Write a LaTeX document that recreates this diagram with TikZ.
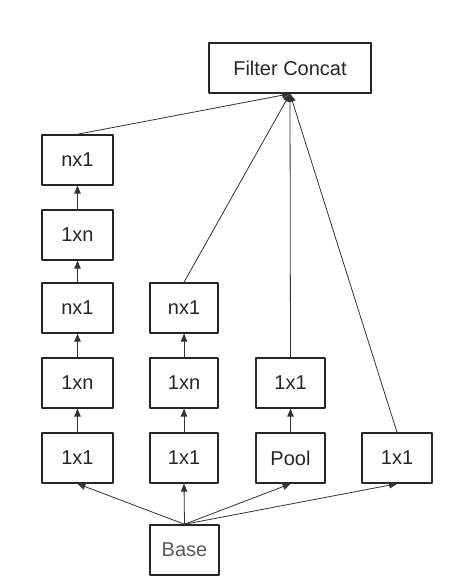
\documentclass[tikz,border=0pt]{standalone}
\usepackage{fontspec}
\setmainfont{Liberation Sans}
\usetikzlibrary{arrows}

\begin{document}
\begin{tikzpicture}[line cap=round,line join=round,>=triangle 45,x=1pt,y=-1pt,
		blk/.style={draw=black!85,line width=1.5pt,minimum width=71pt,minimum height=50pt,inner sep=0pt,text=black!85,font=\fontsize{20}{24}\selectfont},
		conn/.style={->,line width=0.8pt,draw=black!80}]
		\useasboundingbox (0,0) rectangle (471,588);
		\fill[white] (0,0) rectangle (471,588);
		\node[blk,minimum width=162pt] (fc) at (290,68) {Filter Concat};
		\node[blk] (a1) at (77.5,160) {nx1};
		\node[blk] (a2) at (77.5,235) {1xn};
		\node[blk] (a3) at (77.5,308) {nx1};
		\node[blk] (a4) at (77.5,383) {1xn};
		\node[blk] (a5) at (77.5,458) {1x1};
		\node[blk,minimum width=68pt] (b3) at (184,308) {nx1};
		\node[blk,minimum width=68pt] (b4) at (184,383) {1xn};
		\node[blk,minimum width=68pt] (b5) at (184,458) {1x1};
		\node[blk,minimum width=69pt] (c4) at (290.5,383) {1x1};
		\node[blk,minimum width=69pt] (c5) at (290.5,458) {Pool};
		\node[blk,minimum width=70pt] (d5) at (397,458) {1x1};
		\node[blk,minimum width=69pt,text=black!65] (base) at (184.5,550) {Base};
		\draw[conn] (a5) -- (a4);
		\draw[conn] (a4) -- (a3);
		\draw[conn] (a3) -- (a2);
		\draw[conn] (a2) -- (a1);
		\draw[conn] (b5) -- (b4);
		\draw[conn] (b4) -- (b3);
		\draw[conn] (c5) -- (c4);
		\draw[conn] (base.north) -- (a5.south);
		\draw[conn] (base.north) -- (b5.south);
		\draw[conn] (base.north) -- (c5.south);
		\draw[conn] (base.north) -- (d5.south);
		\draw[conn] (a1.north) -- (fc.south);
		\draw[conn] (b3.north) -- (fc.south);
		\draw[conn] (c4.north) -- (fc.south);
		\draw[conn] (d5.north) -- (fc.south);
	\end{tikzpicture}
\end{document}
